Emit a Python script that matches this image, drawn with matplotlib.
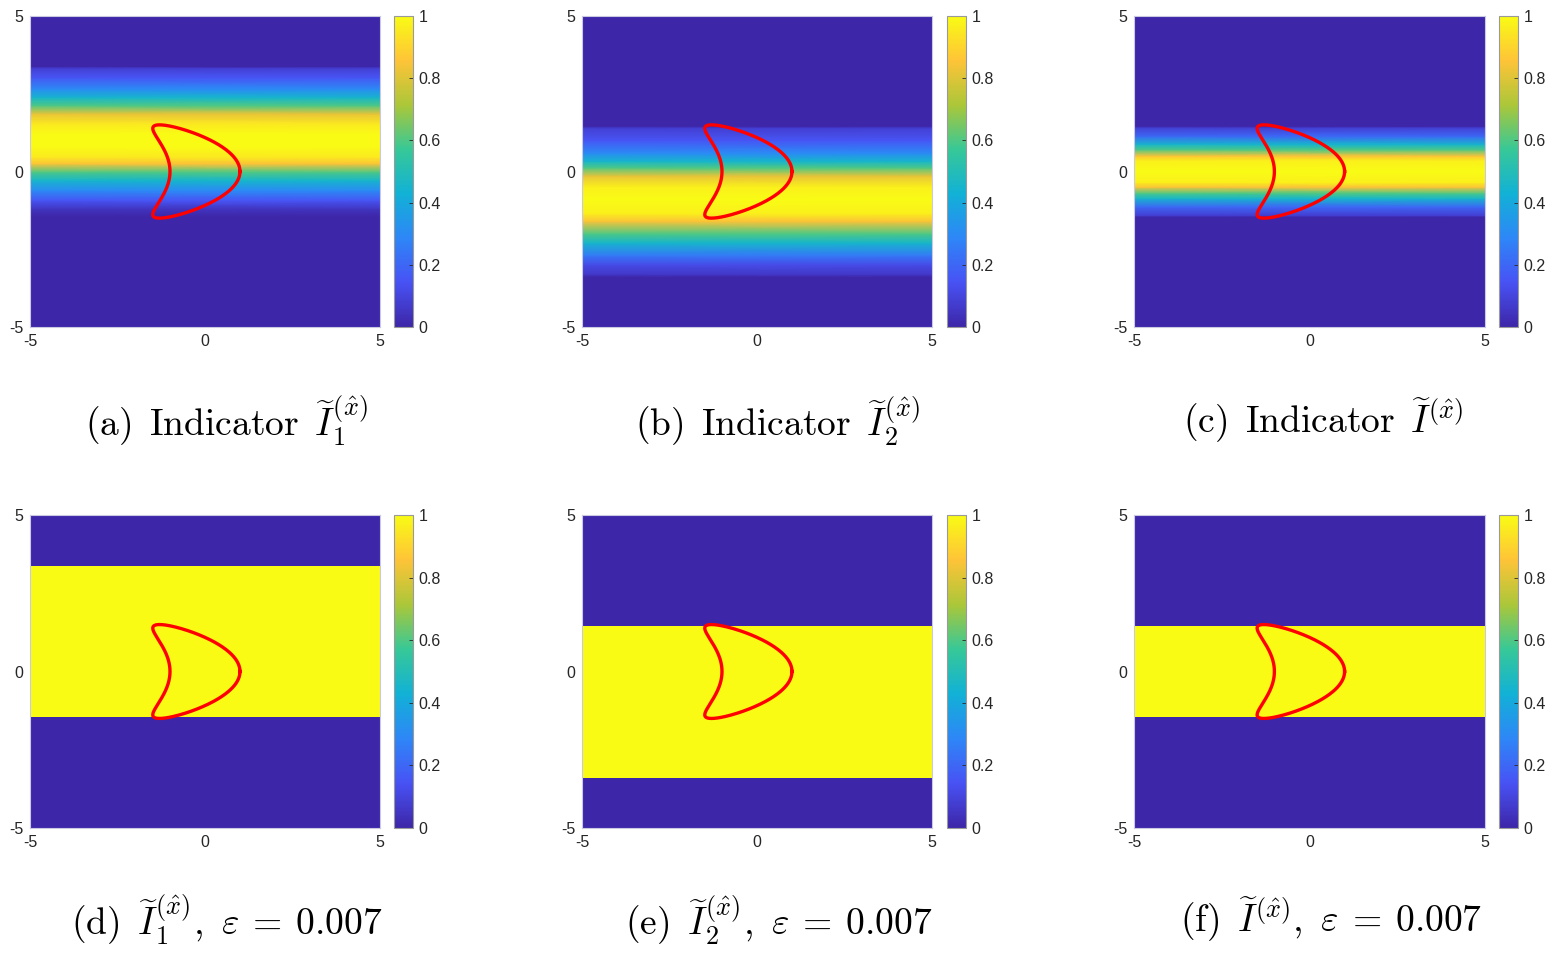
import numpy as np
import matplotlib
matplotlib.use("Agg")
import matplotlib.pyplot as plt
from matplotlib.colors import LinearSegmentedColormap

# ---------------- data ----------------
# vertical profiles of the indicators (constant along x)
y_I1 = [-5.0, -1.45, -1.2, -0.93, -0.61, -0.29, -0.02, 0.25, 0.46, 0.8, 1.2, 1.53, 1.85, 2.12, 2.38, 2.65, 3.02, 3.32, 3.38, 5.0]
v_I1 = [0.0, 0.0, 0.05, 0.15, 0.30, 0.45, 0.60, 0.85, 0.95, 1.0, 1.0, 0.95, 0.82, 0.60, 0.45, 0.30, 0.15, 0.08, 0.0, 0.0]

y_I2 = [-5.0, -3.4, -3.3, -3.0, -2.7, -2.3, -2.0, -1.6, -1.35, -0.9, -0.5, -0.15, 0.12, 0.33, 0.59, 1.0, 1.4, 1.46, 5.0]
v_I2 = [0.0, 0.0, 0.06, 0.12, 0.25, 0.45, 0.60, 0.85, 0.97, 1.0, 0.97, 0.82, 0.60, 0.45, 0.30, 0.15, 0.08, 0.0, 0.0]

y_I = [-5.0, -1.46, -1.41, -1.14, -0.87, -0.7, -0.5, -0.35, 0.0, 0.35, 0.5, 0.7, 0.87, 1.14, 1.41, 1.46, 5.0]
v_I = [0.0, 0.0, 0.08, 0.20, 0.45, 0.60, 0.85, 0.97, 1.0, 0.97, 0.85, 0.60, 0.45, 0.20, 0.08, 0.0, 0.0]

# supports of the thresholded indicators (epsilon = 0.007)
band_I1 = [-1.45, 3.38]
band_I2 = [-3.40, 1.46]
band_I = [-1.46, 1.46]
epsilon = 0.007

# kite-shaped obstacle: x = a cos t + b cos 2t - b, y = c sin t
kite_a, kite_b, kite_c = 1.0, 0.65, 1.5

captions_top = [r'$\mathrm{(a)}\ \,\mathrm{Indicator}\ \,\widetilde{I}_{1}^{(\hat{x})}$',
                r'$\mathrm{(b)}\ \,\mathrm{Indicator}\ \,\widetilde{I}_{2}^{(\hat{x})}$',
                r'$\mathrm{(c)}\ \,\mathrm{Indicator}\ \,\widetilde{I}^{(\hat{x})}$']
captions_bot = [r'$\mathrm{(d)}\ \,\widetilde{I}_{1}^{(\hat{x})},\ \varepsilon\:=\:0.007$',
                r'$\mathrm{(e)}\ \,\widetilde{I}_{2}^{(\hat{x})},\ \varepsilon\:=\:0.007$',
                r'$\mathrm{(f)}\ \,\widetilde{I}^{(\hat{x})},\ \varepsilon\:=\:0.007$']
axis_ticks = [-5, 0, 5]
cbar_ticks = [0, 0.2, 0.4, 0.6, 0.8, 1]
cbar_ticklabels = ['0', '0.2', '0.4', '0.6', '0.8', '1']

# ---------------- style ----------------
plt.rcParams['mathtext.fontset'] = 'cm'
plt.rcParams['font.family'] = ['Liberation Sans', 'DejaVu Sans']
plt.rcParams['axes.unicode_minus'] = False

parula_anchors = [(0.2422, 0.1504, 0.6603), (0.2810, 0.3228, 0.9579),
                  (0.1786, 0.5289, 0.9682), (0.0689, 0.6948, 0.8394),
                  (0.2161, 0.7843, 0.5923), (0.6720, 0.7793, 0.2227),
                  (0.9970, 0.7659, 0.2199), (0.9769, 0.9839, 0.0805)]
parula = LinearSegmentedColormap.from_list('parula', parula_anchors, N=256)

W, H = 1550, 957
fig = plt.figure(figsize=(W / 100, H / 100), dpi=100)

def frac_rect(x0, y0, x1, y1):
    return [x0 / W, 1 - y1 / H, (x1 - x0) / W, (y1 - y0) / H]

col_ax = [(30, 380), (582, 932), (1134, 1485)]
col_cb = [(394, 413), (947, 966), (1499, 1518)]
row_y = [(16, 327), (515, 828)]
cap_x_top = [226, 777, 1323]
cap_x_bot = [227, 779, 1331]
cap_y = [421, 920]

t = np.linspace(0, 2 * np.pi, 400)
kx = kite_a * np.cos(t) + kite_b * np.cos(2 * t) - kite_b
ky = kite_c * np.sin(t)

tick_color = '#262626'
tick_size = 11.5

def style_axes(ax):
    ax.set_xlim(-5, 5)
    ax.set_ylim(-5, 5)
    ax.set_xticks(axis_ticks)
    ax.set_yticks(axis_ticks)
    ax.tick_params(length=0, labelsize=tick_size, colors=tick_color, pad=5)
    for s in ax.spines.values():
        s.set_color('#c9c9e2')
        s.set_linewidth(0.8)

def add_cbar(mappable, r, c):
    y0, y1 = row_y[r]
    cax = fig.add_axes(frac_rect(col_cb[c][0], y0, col_cb[c][1], y1))
    cb = fig.colorbar(mappable, cax=cax, ticks=cbar_ticks)
    cb.ax.set_yticklabels(cbar_ticklabels)
    cb.ax.tick_params(direction='in', length=3, width=0.6, colors=tick_color,
                      labelsize=tick_size, pad=4)
    cb.outline.set_edgecolor('#9a9a9a')
    cb.outline.set_linewidth(0.8)

# ---------------- top row: continuous indicators ----------------
profiles = [(y_I1, v_I1), (y_I2, v_I2), (y_I, v_I)]
for c, (yn, vn) in enumerate(profiles):
    y0, y1 = row_y[0]
    ax = fig.add_axes(frac_rect(col_ax[c][0], y0, col_ax[c][1], y1))
    yy = np.asarray(yn)
    C = np.column_stack([vn, vn])
    m = ax.pcolormesh([-5, 5], yy, C, shading='gouraud', cmap=parula, vmin=0, vmax=1)
    ax.plot(kx, ky, color='#ff0000', lw=2.4)
    style_axes(ax)
    add_cbar(m, 0, c)
    fig.text(cap_x_top[c] / W, 1 - cap_y[0] / H, captions_top[c], ha='center', va='center',
             fontsize=27)

# ---------------- bottom row: thresholded indicators ----------------
bands = [band_I1, band_I2, band_I]
for c, band in enumerate(bands):
    y0, y1 = row_y[1]
    ax = fig.add_axes(frac_rect(col_ax[c][0], y0, col_ax[c][1], y1))
    edges = [-5, band[0], band[1], 5]
    centers = [(edges[i] + edges[i + 1]) / 2 for i in range(3)]
    prof_y, prof_v = profiles[c]
    vals = [1.0 if band[0] <= yc <= band[1] and np.interp(yc, prof_y, prof_v) > epsilon else 0.0
            for yc in centers]
    C = np.array(vals).reshape(3, 1)
    m = ax.pcolormesh([-5, 5], edges, C, shading='flat', cmap=parula, vmin=0, vmax=1)
    ax.plot(kx, ky, color='#ff0000', lw=2.4)
    style_axes(ax)
    add_cbar(m, 1, c)
    fig.text(cap_x_bot[c] / W, 1 - cap_y[1] / H, captions_bot[c], ha='center', va='center',
             fontsize=27)

fig.savefig('out.png', dpi=100, facecolor='white')
